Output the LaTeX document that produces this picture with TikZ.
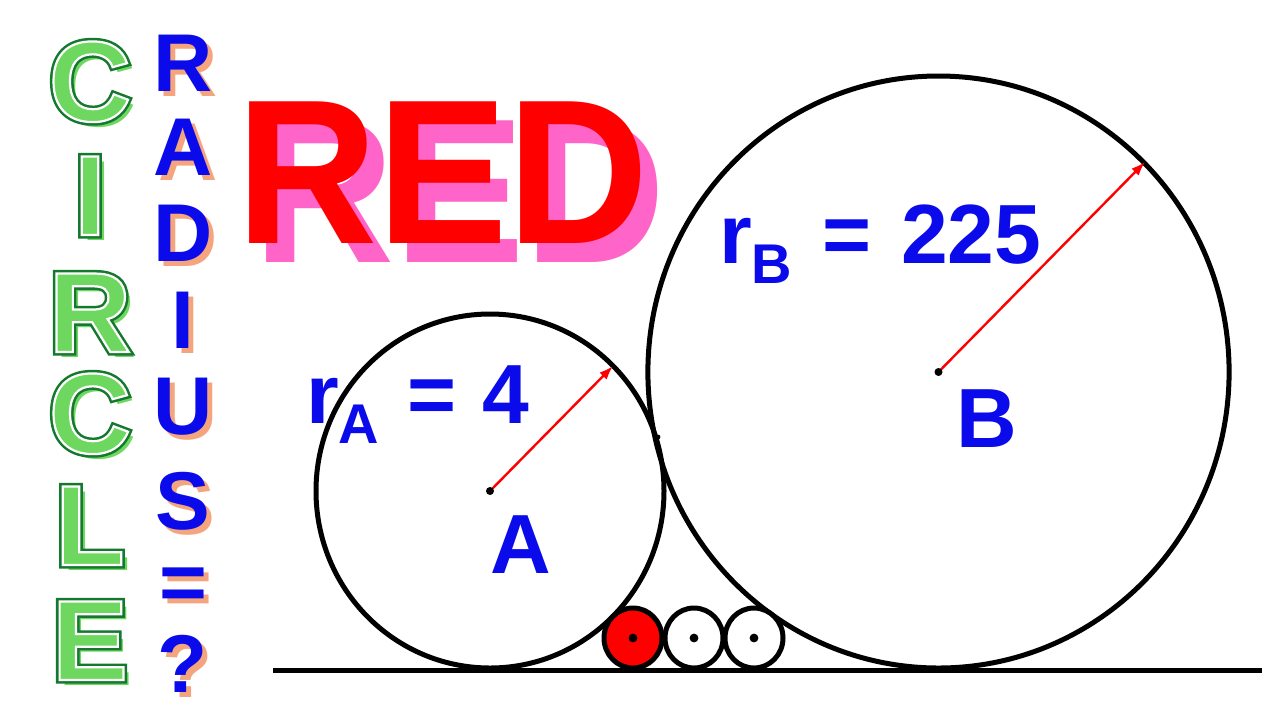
\documentclass[tikz,border=0pt]{standalone}
\usepackage{fontspec}
\usepackage{graphicx}
\setmainfont{Liberation Sans}
\usetikzlibrary{arrows.meta}
\definecolor{tblue}{RGB}{10,10,235}
\definecolor{peach}{RGB}{245,165,125}
\definecolor{lgreen}{RGB}{110,215,95}
\definecolor{dgreen}{RGB}{20,120,45}
\definecolor{pinkred}{RGB}{255,100,200}
\definecolor{tred}{RGB}{255,0,0}
\newcommand\copyat[3]{\makebox[0pt][l]{\kern#1\raisebox{#2}{#3}}}
\newcommand\greenletter[1]{%
  \copyat{3pt}{-2.5pt}{\color{lgreen}#1}%
  \copyat{0pt}{0pt}{\color{lgreen}\special{pdf:literal direct 0.08 0.47 0.18 RG 2 Tr 3.6 w}#1\special{pdf:literal direct 0 Tr 1 w}}%
  {\color{lgreen}\special{pdf:literal direct 1 1 1 RG 2 Tr 1.1 w}#1\special{pdf:literal direct 0 Tr 1 w}}}
\begin{document}
\begin{tikzpicture}[x=0.5pt,y=-0.5pt,
  txt/.style={inner sep=0pt,outer sep=0pt,font=\bfseries\fontsize{42}{42}\selectfont,text=tblue},
  cl/.style={inner sep=0pt,outer sep=0pt,anchor=base,font=\bfseries\fontsize{57}{57}\selectfont},
  rl/.style={inner sep=0pt,outer sep=0pt,anchor=base,font=\bfseries\fontsize{41}{41}\selectfont,text=tblue},
  big/.style={inner sep=0pt,outer sep=0pt,anchor=base west,font=\bfseries\fontsize{103}{103}\selectfont},
  ring/.style={line width=2.5pt,draw=black},
  radarrow/.style={draw=tred,line width=1.2pt,-{Latex[length=7pt,width=5pt]}},
  dot/.style={fill=black}]
\useasboundingbox[fill=white] (0,0) rectangle (1280,720);

% CIRCLE column
\foreach \ch/\yb [count=\i] in {C/121,I/235,R/352,C/453,L/565,E/680}{
  \node[cl] (c\i) at (90,\yb) {\greenletter{\ch}};
}

% RADIUS = ? column
\foreach \ch/\yb [count=\i] in {R/91,A/175,D/261,I/348,U/434,S/529,{=}/610,?/692}{
  \node[rl] (r\i) at (183,\yb) {\copyat{2.5pt}{-2.5pt}{\color{peach}\ch}\ch};
}

% RED title
\node[big] (redtitle) at (236,243) {\scalebox{0.95}[1]{\copyat{9pt}{-9.5pt}{\color{pinkred}RED}\color{tred}RED}};

% labels
\node[txt,anchor=base west] (ra) at (306,423) {r\raisebox{-10pt}{\fontsize{28}{28}\selectfont A}\hspace{14pt}=\hspace{13pt}4};
\node[txt,anchor=base west] (rb) at (719,263) {r\raisebox{-10pt}{\fontsize{28}{28}\selectfont B}\hspace{15pt}=\hspace{15pt}225};
\node[txt,anchor=base] (la) at (521,573) {A};
\node[txt,anchor=base] (lb) at (987,447) {B};

% ground
\coordinate (g1) at (273,670.5);
\coordinate (g2) at (1262,670.5);
\draw[line width=2.5pt] (g1) -- (g2);

% circles
\coordinate (Ac) at (490,491);
\coordinate (Bc) at (938.5,372);
\draw[ring] (Ac) ellipse [x radius=87pt, y radius=88.5pt];
\draw[ring] (Bc) ellipse [x radius=145.3pt, y radius=148pt];

\coordinate (s1) at (633,638);
\coordinate (s2) at (694,638);
\coordinate (s3) at (754,638);
\draw[ring,fill=tred] (s1) ellipse [x radius=14.5pt, y radius=15pt];
\draw[ring,fill=white] (s2) ellipse [x radius=14.5pt, y radius=15pt];
\draw[ring,fill=white] (s3) ellipse [x radius=14.5pt, y radius=15pt];
\fill[dot] (s1) circle [radius=2.2pt];
\fill[dot] (s2) circle [radius=2.2pt];
\fill[dot] (s3) circle [radius=2.2pt];

% tangency mark
\coordinate (tAB) at (658,437);
\fill[dot] (tAB) circle [radius=1.2pt];

% radius arrows
\coordinate (At) at (613,366);
\coordinate (Bt) at (1145,162);
\draw[radarrow] (Ac) -- (At);
\draw[radarrow] (Bc) -- (Bt);
\fill[dot] (Ac) circle [radius=2pt];
\fill[dot] (Bc) circle [radius=2pt];
\end{tikzpicture}
\end{document}
